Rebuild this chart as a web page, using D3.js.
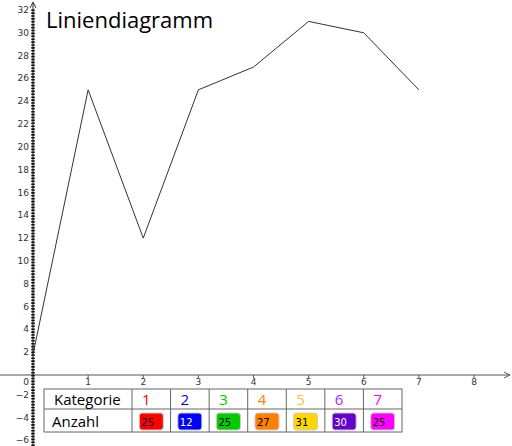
<!DOCTYPE html>
<html><head><meta charset="utf-8">
<script src="https://cdn.jsdelivr.net/npm/d3@7"></script>
<style>body{margin:0;background:#fff}</style>
</head><body>
<div id="chart"></div>
<script>
var categories = [1, 2, 3, 4, 5, 6, 7];
var values = [25, 12, 25, 27, 31, 30, 25];
var startValue = 1.8;
var catColors = ['#ff0000', '#0000ff', '#00cc00', '#ff8000', '#ffd700', '#6600cc', '#ff00ff'];
var labelColors = ['#ff0000', '#0000ff', '#00cc00', '#ff8000', '#ffc040', '#9933ff', '#ff00ff'];
var valueTextColors = ['#000', '#fff', '#000', '#000', '#000', '#fff', '#000'];
var xTicks = [0, 1, 2, 3, 4, 5, 6, 7, 8];
var yTicks = [-6, -4, -2, 2, 4, 6, 8, 10, 12, 14, 16, 18, 20, 22, 24, 26, 28, 30, 32];

var width = 512, height = 446;
var x = d3.scaleLinear().domain([0, 8]).range([33, 474]);
var y = d3.scaleLinear().domain([0, 32]).range([375, 10]);

var svg = d3.select('#chart').append('svg')
  .attr('width', width).attr('height', height)
  .style('font-family', 'DejaVu Sans');

// x axis
svg.append('line').attr('x1', 0).attr('x2', 510).attr('y1', y(0)).attr('y2', y(0))
  .attr('stroke', '#555').attr('stroke-width', 1.2);
svg.append('path').attr('d', 'M504,' + (y(0) - 3) + 'L510,' + y(0) + 'L504,' + (y(0) + 3))
  .attr('fill', 'none').attr('stroke', '#555');
xTicks.forEach(function(t) {
  if (t > 0) svg.append('line').attr('x1', x(t)).attr('x2', x(t)).attr('y1', y(0)).attr('y2', y(0) + 3).attr('stroke', '#555');
  svg.append('text').attr('x', t === 0 ? x(0) - 4 : x(t)).attr('y', y(0) + 10)
    .attr('text-anchor', t === 0 ? 'end' : 'middle').attr('font-size', 9).attr('fill', '#333').text(t);
});

// y axis (dense ticks)
svg.append('line').attr('x1', x(0)).attr('x2', x(0)).attr('y1', 446).attr('y2', 3)
  .attr('stroke', '#222').attr('stroke-width', 1);
svg.append('line').attr('x1', x(0)).attr('x2', x(0)).attr('y1', 446).attr('y2', 8)
  .attr('stroke', '#111').attr('stroke-width', 3.5).attr('stroke-dasharray', '1.6,1.3');
svg.append('path').attr('d', 'M' + (x(0) - 3) + ',8L' + x(0) + ',2L' + (x(0) + 3) + ',8')
  .attr('fill', 'none').attr('stroke', '#333');
yTicks.forEach(function(t) {
  svg.append('text').attr('x', x(0) - 4).attr('y', y(t) + (t < 0 ? 0 : 3))
    .attr('text-anchor', 'end').attr('font-size', 9).attr('fill', '#333')
    .text(t < 0 ? '\u2212' + (-t) : t);
});

// line
var pts = [[0, startValue]].concat(categories.map(function(c, i) { return [c, values[i]]; }));
svg.append('path').datum(pts)
  .attr('d', d3.line().x(function(d) { return x(d[0]); }).y(function(d) { return y(d[1]); }))
  .attr('fill', 'none').attr('stroke', '#333').attr('stroke-width', 1);

// title
svg.append('text').attr('x', 46).attr('y', 28).attr('font-size', 22).attr('font-family', 'Open Sans').attr('fill', '#000').text('Liniendiagramm');

// table
var tx = d3.scaleLinear().domain([0, 7]).range([132, 402]);
var t0 = 44, r0 = 389, r1 = 409, r2 = 432;
var g = svg.append('g');
g.append('rect').attr('x', t0).attr('y', r0).attr('width', 402 - t0).attr('height', r2 - r0)
  .attr('fill', '#fff').attr('stroke', '#666');
g.append('line').attr('x1', t0).attr('x2', 402).attr('y1', r1).attr('y2', r1).attr('stroke', '#666');
categories.forEach(function(c, i) {
  g.append('line').attr('x1', tx(i)).attr('x2', tx(i)).attr('y1', r0).attr('y2', r2).attr('stroke', '#666');
  var cx = (tx(i) + tx(i + 1)) / 2;
  g.append('text').attr('x', tx(i) + 10).attr('y', r1 - 4).attr('font-size', 15).attr('font-family', 'Open Sans')
    .attr('fill', labelColors[i]).text(c);
  g.append('rect').attr('x', cx - 12).attr('y', r1 + 4).attr('width', 24).attr('height', 17).attr('rx', 3)
    .attr('fill', catColors[i]).attr('stroke', '#ccc');
  g.append('text').attr('x', cx - 10).attr('y', r1 + 17).attr('font-size', 10).attr('fill', valueTextColors[i]).text(values[i]);
});
g.append('text').attr('x', 54).attr('y', r1 - 4).attr('font-size', 15).attr('font-family', 'Open Sans').text('Kategorie');
g.append('text').attr('x', 52).attr('y', r2 - 5).attr('font-size', 15).attr('font-family', 'Open Sans').text('Anzahl');
</script>
</body></html>
